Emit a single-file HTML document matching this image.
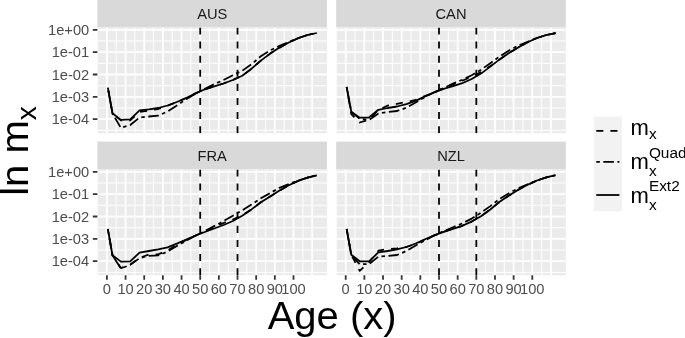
<!DOCTYPE html>
<html lang="en"><head><meta charset="utf-8"><title>ln mx by Age</title>
<style>html,body{margin:0;padding:0;background:#fff;overflow:hidden}body{width:685px;height:338px}</style></head>
<body>
<svg width="685" height="338" viewBox="0 0 685 338" style="display:block;font-family:'Liberation Sans',Arial,Helvetica,sans-serif">
<rect x="0" y="0" width="685" height="338" fill="#fff"/>
<defs>
<clipPath id="cAUS"><rect x="97.40" y="27.40" width="229.60" height="105.80"/></clipPath>
<clipPath id="cCAN"><rect x="336.20" y="27.40" width="229.60" height="105.80"/></clipPath>
<clipPath id="cFRA"><rect x="97.40" y="169.40" width="229.60" height="105.80"/></clipPath>
<clipPath id="cNZL"><rect x="336.20" y="169.40" width="229.60" height="105.80"/></clipPath>
</defs>
<g>
<rect x="97.40" y="-0.40" width="229.60" height="27.80" fill="#D9D9D9"/>
<text x="212.20" y="18.80" font-size="14.67" fill="#1A1A1A" text-anchor="middle">AUS</text>
<rect x="97.40" y="27.40" width="229.60" height="105.80" fill="#EBEBEB"/>
<g clip-path="url(#cAUS)">
<path d="M97.40 40.98H327.00M97.40 63.33H327.00M97.40 85.67H327.00M97.40 108.03H327.00M97.40 130.38H327.00M97.57 27.40V133.20M116.23 27.40V133.20M134.89 27.40V133.20M153.55 27.40V133.20M172.21 27.40V133.20M190.87 27.40V133.20M209.53 27.40V133.20M228.19 27.40V133.20M246.85 27.40V133.20M265.51 27.40V133.20M284.17 27.40V133.20M302.83 27.40V133.20" stroke="#fff" stroke-width="1.0" fill="none"/>
<path d="M97.40 29.80H327.00M97.40 52.15H327.00M97.40 74.50H327.00M97.40 96.85H327.00M97.40 119.20H327.00M106.90 27.40V133.20M125.56 27.40V133.20M144.22 27.40V133.20M162.88 27.40V133.20M181.54 27.40V133.20M200.20 27.40V133.20M218.86 27.40V133.20M237.52 27.40V133.20M256.18 27.40V133.20M274.84 27.40V133.20M293.50 27.40V133.20M312.16 27.40V133.20" stroke="#fff" stroke-width="1.78" fill="none"/>
<path d="M107.83 87.65L112.50 113.30L120.90 119.85L130.23 119.30L139.56 110.40L148.88 109.40L158.22 108.00L167.55 105.50L176.88 102.00L186.21 98.00L195.54 93.40L204.87 89.30L214.19 86.40L223.53 83.50L232.86 80.00L242.19 75.80L251.52 68.70L260.85 60.60L270.18 53.60L279.50 47.60L288.84 42.50L298.17 38.20L307.50 35.00L316.83 33.00" stroke="#000" stroke-width="1.78" fill="none" stroke-linejoin="round"/>
<path d="M107.83 87.65L112.50 113.30L120.90 120.35L130.23 120.30L139.56 112.00L148.88 110.60L158.22 109.00L167.55 105.80L176.88 102.00L186.21 98.00L195.54 93.40L204.87 89.30L214.19 86.40L223.53 83.50L232.86 80.00L242.19 75.80L251.52 68.70L260.85 60.60L270.18 53.60L279.50 47.60L288.84 42.50L298.17 38.20L307.50 35.00L316.83 33.00" stroke="#000" stroke-width="1.78" fill="none" stroke-linejoin="round" stroke-dasharray="7.05 7.05" stroke-dashoffset="-3"/>
<path d="M107.83 87.65L112.50 113.60L120.90 127.85L130.23 125.00L139.56 117.50L148.88 116.50L158.22 115.70L167.55 111.50L176.88 105.40L186.21 99.20L195.54 93.60L204.87 88.70L214.19 84.20L223.53 80.00L232.86 75.20L242.19 70.80L251.52 64.30L260.85 56.20L270.18 50.40L279.50 45.80L288.84 41.90L298.17 38.20L307.50 35.00L316.83 33.00" stroke="#000" stroke-width="1.78" fill="none" stroke-linejoin="round" stroke-dasharray="3.52 3.52 10.57 3.52" stroke-dashoffset="-3"/>
<path d="M200.20 133.20V27.40" stroke="#000" stroke-width="1.78" fill="none" stroke-dasharray="7.05 7.05"/>
<path d="M237.52 133.20V27.40" stroke="#000" stroke-width="1.78" fill="none" stroke-dasharray="7.05 7.05"/>
</g>
</g>
<g>
<rect x="336.20" y="-0.40" width="229.60" height="27.80" fill="#D9D9D9"/>
<text x="451.00" y="18.80" font-size="14.67" fill="#1A1A1A" text-anchor="middle">CAN</text>
<rect x="336.20" y="27.40" width="229.60" height="105.80" fill="#EBEBEB"/>
<g clip-path="url(#cCAN)">
<path d="M336.20 40.98H565.80M336.20 63.33H565.80M336.20 85.67H565.80M336.20 108.03H565.80M336.20 130.38H565.80M336.37 27.40V133.20M355.03 27.40V133.20M373.69 27.40V133.20M392.35 27.40V133.20M411.01 27.40V133.20M429.67 27.40V133.20M448.33 27.40V133.20M466.99 27.40V133.20M485.65 27.40V133.20M504.31 27.40V133.20M522.97 27.40V133.20M541.63 27.40V133.20" stroke="#fff" stroke-width="1.0" fill="none"/>
<path d="M336.20 29.80H565.80M336.20 52.15H565.80M336.20 74.50H565.80M336.20 96.85H565.80M336.20 119.20H565.80M345.70 27.40V133.20M364.36 27.40V133.20M383.02 27.40V133.20M401.68 27.40V133.20M420.34 27.40V133.20M439.00 27.40V133.20M457.66 27.40V133.20M476.32 27.40V133.20M494.98 27.40V133.20M513.64 27.40V133.20M532.30 27.40V133.20M550.96 27.40V133.20" stroke="#fff" stroke-width="1.78" fill="none"/>
<path d="M346.63 87.00L351.30 111.60L359.70 117.70L369.03 117.50L378.36 109.80L387.69 108.00L397.01 106.50L406.35 104.20L415.68 100.90L425.00 96.40L434.34 92.30L443.67 88.80L453.00 86.20L462.33 83.20L471.66 79.00L480.99 73.60L490.32 66.60L499.65 59.40L508.98 53.00L518.31 47.40L527.63 42.30L536.97 38.00L546.30 35.00L555.62 33.20" stroke="#000" stroke-width="1.78" fill="none" stroke-linejoin="round"/>
<path d="M346.63 87.00L351.30 114.10L359.70 122.50L369.03 119.70L378.36 109.80L387.69 105.60L397.01 103.90L406.35 102.00L415.68 99.90L425.00 96.10L434.34 92.30L443.67 88.00L453.00 84.40L462.33 80.80L471.66 76.60L480.99 72.10L490.32 66.10L499.65 59.40L508.98 53.00L518.31 47.40L527.63 42.30L536.97 38.00L546.30 35.00L555.62 33.20" stroke="#000" stroke-width="1.78" fill="none" stroke-linejoin="round" stroke-dasharray="7.05 7.05" stroke-dashoffset="3.3"/>
<path d="M346.63 87.00L351.30 111.90L359.70 118.90L369.03 119.90L378.36 113.40L387.69 112.00L397.01 111.00L406.35 107.70L415.68 102.40L425.00 96.90L434.34 92.30L443.67 88.00L453.00 83.60L462.33 79.80L471.66 75.20L480.99 69.80L490.32 63.20L499.65 56.40L508.98 50.50L518.31 45.60L527.63 41.70L536.97 38.00L546.30 35.00L555.62 33.20" stroke="#000" stroke-width="1.78" fill="none" stroke-linejoin="round" stroke-dasharray="3.52 3.52 10.57 3.52" stroke-dashoffset="2.8"/>
<path d="M439.00 133.20V27.40" stroke="#000" stroke-width="1.78" fill="none" stroke-dasharray="7.05 7.05"/>
<path d="M476.32 133.20V27.40" stroke="#000" stroke-width="1.78" fill="none" stroke-dasharray="7.05 7.05"/>
</g>
</g>
<g>
<rect x="97.40" y="141.60" width="229.60" height="27.80" fill="#D9D9D9"/>
<text x="212.20" y="160.80" font-size="14.67" fill="#1A1A1A" text-anchor="middle">FRA</text>
<rect x="97.40" y="169.40" width="229.60" height="105.80" fill="#EBEBEB"/>
<g clip-path="url(#cFRA)">
<path d="M97.40 182.97H327.00M97.40 205.32H327.00M97.40 227.68H327.00M97.40 250.03H327.00M97.40 272.38H327.00M97.57 169.40V275.20M116.23 169.40V275.20M134.89 169.40V275.20M153.55 169.40V275.20M172.21 169.40V275.20M190.87 169.40V275.20M209.53 169.40V275.20M228.19 169.40V275.20M246.85 169.40V275.20M265.51 169.40V275.20M284.17 169.40V275.20M302.83 169.40V275.20" stroke="#fff" stroke-width="1.0" fill="none"/>
<path d="M97.40 171.80H327.00M97.40 194.15H327.00M97.40 216.50H327.00M97.40 238.85H327.00M97.40 261.20H327.00M106.90 169.40V275.20M125.56 169.40V275.20M144.22 169.40V275.20M162.88 169.40V275.20M181.54 169.40V275.20M200.20 169.40V275.20M218.86 169.40V275.20M237.52 169.40V275.20M256.18 169.40V275.20M274.84 169.40V275.20M293.50 169.40V275.20M312.16 169.40V275.20" stroke="#fff" stroke-width="1.78" fill="none"/>
<path d="M107.83 229.00L112.50 255.30L120.90 261.60L130.23 261.30L139.56 252.60L148.88 251.00L158.22 249.40L167.55 247.40L176.88 243.60L186.21 239.50L195.54 235.50L204.87 232.00L214.19 228.50L223.53 225.00L232.86 221.00L242.19 215.80L251.52 209.40L260.85 202.30L270.18 196.40L279.50 190.60L288.84 185.30L298.17 180.90L307.50 177.60L316.83 175.30" stroke="#000" stroke-width="1.78" fill="none" stroke-linejoin="round"/>
<path d="M107.83 229.00L112.50 255.30L120.90 268.10L130.23 264.50L139.56 257.80L148.88 254.50L158.22 254.40L167.55 250.40L176.88 244.80L186.21 239.90L195.54 235.50L204.87 231.50L214.19 227.00L223.53 223.00L232.86 219.50L242.19 215.30L251.52 209.40L260.85 202.30L270.18 196.40L279.50 190.60L288.84 185.30L298.17 180.90L307.50 177.60L316.83 175.30" stroke="#000" stroke-width="1.78" fill="none" stroke-linejoin="round" stroke-dasharray="7.05 7.05" stroke-dashoffset="4.5"/>
<path d="M107.83 229.00L112.50 255.60L120.90 268.40L130.23 264.90L139.56 258.20L148.88 255.80L158.22 255.40L167.55 251.60L176.88 245.90L186.21 240.70L195.54 235.80L204.87 231.20L214.19 226.10L223.53 221.10L232.86 215.80L242.19 210.40L251.52 204.60L260.85 198.30L270.18 193.10L279.50 187.80L288.84 184.10L298.17 180.60L307.50 177.60L316.83 175.30" stroke="#000" stroke-width="1.78" fill="none" stroke-linejoin="round" stroke-dasharray="3.52 3.52 10.57 3.52" stroke-dashoffset="-2.7"/>
<path d="M200.20 275.20V169.40" stroke="#000" stroke-width="1.78" fill="none" stroke-dasharray="7.05 7.05"/>
<path d="M237.52 275.20V169.40" stroke="#000" stroke-width="1.78" fill="none" stroke-dasharray="7.05 7.05"/>
</g>
</g>
<g>
<rect x="336.20" y="141.60" width="229.60" height="27.80" fill="#D9D9D9"/>
<text x="451.00" y="160.80" font-size="14.67" fill="#1A1A1A" text-anchor="middle">NZL</text>
<rect x="336.20" y="169.40" width="229.60" height="105.80" fill="#EBEBEB"/>
<g clip-path="url(#cNZL)">
<path d="M336.20 182.97H565.80M336.20 205.32H565.80M336.20 227.68H565.80M336.20 250.03H565.80M336.20 272.38H565.80M336.37 169.40V275.20M355.03 169.40V275.20M373.69 169.40V275.20M392.35 169.40V275.20M411.01 169.40V275.20M429.67 169.40V275.20M448.33 169.40V275.20M466.99 169.40V275.20M485.65 169.40V275.20M504.31 169.40V275.20M522.97 169.40V275.20M541.63 169.40V275.20" stroke="#fff" stroke-width="1.0" fill="none"/>
<path d="M336.20 171.80H565.80M336.20 194.15H565.80M336.20 216.50H565.80M336.20 238.85H565.80M336.20 261.20H565.80M345.70 169.40V275.20M364.36 169.40V275.20M383.02 169.40V275.20M401.68 169.40V275.20M420.34 169.40V275.20M439.00 169.40V275.20M457.66 169.40V275.20M476.32 169.40V275.20M494.98 169.40V275.20M513.64 169.40V275.20M532.30 169.40V275.20M550.96 169.40V275.20" stroke="#fff" stroke-width="1.78" fill="none"/>
<path d="M346.63 229.00L351.30 254.75L359.70 261.30L369.03 261.30L378.36 252.40L387.69 251.00L397.01 249.40L406.35 247.00L415.68 243.50L425.00 239.30L434.34 235.30L443.67 231.80L453.00 228.80L462.33 225.80L471.66 221.60L480.99 216.20L490.32 209.50L499.65 201.80L508.98 195.60L518.31 189.80L527.63 184.80L536.97 180.50L546.30 177.30L555.62 175.20" stroke="#000" stroke-width="1.78" fill="none" stroke-linejoin="round"/>
<path d="M346.63 229.00L351.30 254.75L359.70 270.80L369.03 262.30L378.36 250.70L387.69 249.10L397.01 248.40L406.35 247.00L415.68 244.00L425.00 239.30L434.34 235.30L443.67 231.80L453.00 228.80L462.33 225.80L471.66 221.60L480.99 216.20L490.32 209.50L499.65 201.80L508.98 195.60L518.31 189.80L527.63 184.80L536.97 180.50L546.30 177.30L555.62 175.20" stroke="#000" stroke-width="1.78" fill="none" stroke-linejoin="round" stroke-dasharray="7.05 7.05" stroke-dashoffset="0"/>
<path d="M346.63 229.00L351.30 255.05L359.70 264.30L369.03 264.10L378.36 256.60L387.69 256.00L397.01 255.00L406.35 251.00L415.68 245.50L425.00 240.30L434.34 235.50L443.67 231.20L453.00 227.20L462.33 223.40L471.66 218.60L480.99 212.80L490.32 206.10L499.65 198.80L508.98 193.20L518.31 188.20L527.63 184.30L536.97 180.50L546.30 177.30L555.62 175.20" stroke="#000" stroke-width="1.78" fill="none" stroke-linejoin="round" stroke-dasharray="3.52 3.52 10.57 3.52" stroke-dashoffset="0"/>
<path d="M439.00 275.20V169.40" stroke="#000" stroke-width="1.78" fill="none" stroke-dasharray="7.05 7.05"/>
<path d="M476.32 275.20V169.40" stroke="#000" stroke-width="1.78" fill="none" stroke-dasharray="7.05 7.05"/>
</g>
</g>
<text x="89.2" y="35.05" font-size="14.67" fill="#4D4D4D" text-anchor="end">1e+00</text>
<text x="89.2" y="57.40" font-size="14.67" fill="#4D4D4D" text-anchor="end">1e-01</text>
<text x="89.2" y="79.75" font-size="14.67" fill="#4D4D4D" text-anchor="end">1e-02</text>
<text x="89.2" y="102.10" font-size="14.67" fill="#4D4D4D" text-anchor="end">1e-03</text>
<text x="89.2" y="124.45" font-size="14.67" fill="#4D4D4D" text-anchor="end">1e-04</text>
<path d="M92.82 29.80H97.40M92.82 52.15H97.40M92.82 74.50H97.40M92.82 96.85H97.40M92.82 119.20H97.40" stroke="#333" stroke-width="1.78" fill="none"/>
<text x="89.2" y="177.05" font-size="14.67" fill="#4D4D4D" text-anchor="end">1e+00</text>
<text x="89.2" y="199.40" font-size="14.67" fill="#4D4D4D" text-anchor="end">1e-01</text>
<text x="89.2" y="221.75" font-size="14.67" fill="#4D4D4D" text-anchor="end">1e-02</text>
<text x="89.2" y="244.10" font-size="14.67" fill="#4D4D4D" text-anchor="end">1e-03</text>
<text x="89.2" y="266.45" font-size="14.67" fill="#4D4D4D" text-anchor="end">1e-04</text>
<path d="M92.82 171.80H97.40M92.82 194.15H97.40M92.82 216.50H97.40M92.82 238.85H97.40M92.82 261.20H97.40" stroke="#333" stroke-width="1.78" fill="none"/>
<text x="106.90" y="294.2" font-size="14.67" fill="#4D4D4D" text-anchor="middle">0</text>
<text x="125.56" y="294.2" font-size="14.67" fill="#4D4D4D" text-anchor="middle">10</text>
<text x="144.22" y="294.2" font-size="14.67" fill="#4D4D4D" text-anchor="middle">20</text>
<text x="162.88" y="294.2" font-size="14.67" fill="#4D4D4D" text-anchor="middle">30</text>
<text x="181.54" y="294.2" font-size="14.67" fill="#4D4D4D" text-anchor="middle">40</text>
<text x="200.20" y="294.2" font-size="14.67" fill="#4D4D4D" text-anchor="middle">50</text>
<text x="218.86" y="294.2" font-size="14.67" fill="#4D4D4D" text-anchor="middle">60</text>
<text x="237.52" y="294.2" font-size="14.67" fill="#4D4D4D" text-anchor="middle">70</text>
<text x="256.18" y="294.2" font-size="14.67" fill="#4D4D4D" text-anchor="middle">80</text>
<text x="274.84" y="294.2" font-size="14.67" fill="#4D4D4D" text-anchor="middle">90</text>
<text x="293.50" y="294.2" font-size="14.67" fill="#4D4D4D" text-anchor="middle">100</text>
<path d="M106.90 275.20V279.78M125.56 275.20V279.78M144.22 275.20V279.78M162.88 275.20V279.78M181.54 275.20V279.78M200.20 275.20V279.78M218.86 275.20V279.78M237.52 275.20V279.78M256.18 275.20V279.78M274.84 275.20V279.78M293.50 275.20V279.78" stroke="#333" stroke-width="1.78" fill="none"/>
<text x="345.70" y="294.2" font-size="14.67" fill="#4D4D4D" text-anchor="middle">0</text>
<text x="364.36" y="294.2" font-size="14.67" fill="#4D4D4D" text-anchor="middle">10</text>
<text x="383.02" y="294.2" font-size="14.67" fill="#4D4D4D" text-anchor="middle">20</text>
<text x="401.68" y="294.2" font-size="14.67" fill="#4D4D4D" text-anchor="middle">30</text>
<text x="420.34" y="294.2" font-size="14.67" fill="#4D4D4D" text-anchor="middle">40</text>
<text x="439.00" y="294.2" font-size="14.67" fill="#4D4D4D" text-anchor="middle">50</text>
<text x="457.66" y="294.2" font-size="14.67" fill="#4D4D4D" text-anchor="middle">60</text>
<text x="476.32" y="294.2" font-size="14.67" fill="#4D4D4D" text-anchor="middle">70</text>
<text x="494.98" y="294.2" font-size="14.67" fill="#4D4D4D" text-anchor="middle">80</text>
<text x="513.64" y="294.2" font-size="14.67" fill="#4D4D4D" text-anchor="middle">90</text>
<text x="532.30" y="294.2" font-size="14.67" fill="#4D4D4D" text-anchor="middle">100</text>
<path d="M345.70 275.20V279.78M364.36 275.20V279.78M383.02 275.20V279.78M401.68 275.20V279.78M420.34 275.20V279.78M439.00 275.20V279.78M457.66 275.20V279.78M476.32 275.20V279.78M494.98 275.20V279.78M513.64 275.20V279.78M532.30 275.20V279.78" stroke="#333" stroke-width="1.78" fill="none"/>
<text transform="translate(332.1 328.9) scale(1 0.965)" font-size="40" fill="#000" text-anchor="middle">Age (x)</text>
<text transform="translate(28.4 151) rotate(-90) scale(1 0.965)" font-size="40" fill="#000" text-anchor="middle">ln m<tspan font-size="28" dy="7.8">x</tspan></text>
<rect x="593.8" y="116.5" width="28.1" height="94.8" fill="#F2F2F2"/>
<path d="M596.30 130.95H619.40" stroke="#000" stroke-width="1.78" stroke-dasharray="7.05 7.05"/>
<path d="M596.30 161.8H619.40" stroke="#000" stroke-width="1.78" stroke-dasharray="3.52 3.52 10.57 3.52"/>
<path d="M596.30 195H619.40" stroke="#000" stroke-width="1.78"/>
<text x="630.6" y="134.6" font-size="22" fill="#000">m</text><text x="648.9" y="138.7" font-size="15.4" fill="#000">x</text>
<text x="630.6" y="168.8" font-size="22" fill="#000">m</text><text x="648.9" y="175.8" font-size="15.4" fill="#000">x</text><text x="648.9" y="158.3" font-size="15.4" fill="#000">Quad</text>
<text x="630.6" y="202.5" font-size="22" fill="#000">m</text><text x="648.9" y="209.7" font-size="15.4" fill="#000">x</text><text x="648.9" y="191.0" font-size="15.4" fill="#000">Ext2</text>
</svg>
</body></html>
